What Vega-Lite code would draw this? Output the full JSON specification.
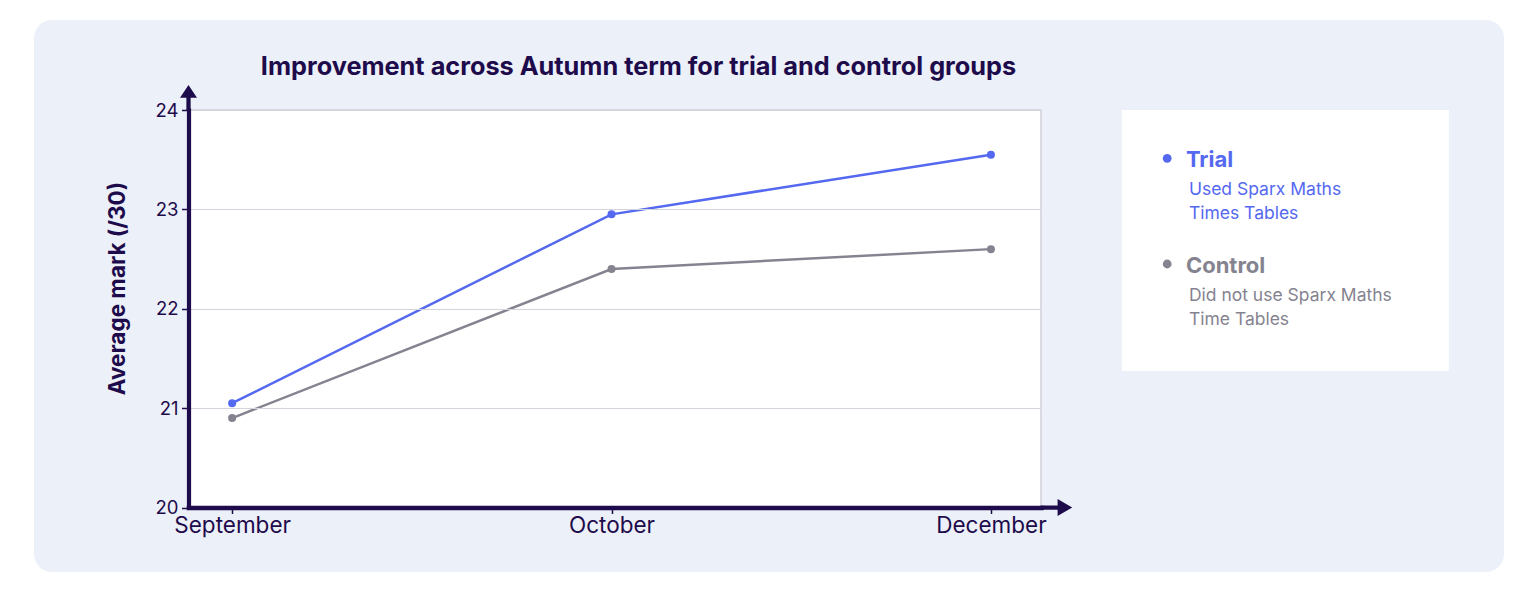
{
  "$schema": "https://vega.github.io/schema/vega-lite/v6.json",
  "width": 1470,
  "height": 552,
  "autosize": {"type": "none"},
  "padding": {"left": 34, "top": 20, "right": 31, "bottom": 24},
  "background": "#ffffff",
  "config": {
    "font": "Inter",
    "view": {"fill": "#ECF0F8", "stroke": null, "cornerRadius": 18}
  },
  "title": {
    "text": "Improvement across Autumn term for trial and control groups",
    "anchor": "middle",
    "frame": "group",
    "dx": -130.5,
    "offset": -80,
    "baseline": "alphabetic",
    "fontSize": 25.3,
    "fontWeight": "bold",
    "color": "#1E0B4B"
  },
  "datasets": {
    "scores": [
      {"month": "September", "monthIndex": 0, "group": "Trial", "mark": 21.05},
      {"month": "October", "monthIndex": 1, "group": "Trial", "mark": 22.95},
      {"month": "December", "monthIndex": 2, "group": "Trial", "mark": 23.55},
      {"month": "September", "monthIndex": 0, "group": "Control", "mark": 20.9},
      {"month": "October", "monthIndex": 1, "group": "Control", "mark": 22.4},
      {"month": "December", "monthIndex": 2, "group": "Control", "mark": 22.6}
    ],
    "legendItems": [
      {"group": "Trial", "note": "Used Sparx Maths\nTimes Tables"},
      {"group": "Control", "note": "Did not use Sparx Maths\nTime Tables"}
    ]
  },
  "resolve": {"scale": {"y": "independent"}},
  "layer": [
    {
      "layer": [
        {
          "data": {"values": [{}]},
          "mark": {"type": "rect", "fill": "#ffffff", "stroke": "#D0D0D8", "strokeWidth": 1.5},
          "encoding": {
            "x": {"datum": -0.115, "type": "quantitative", "scale": {"domain": [-0.115, 2.132], "range": [154.5, 1007], "zero": false, "nice": false}},
            "x2": {"datum": 2.132},
            "y": {"datum": 20, "type": "quantitative", "scale": {"domain": [20, 24], "range": [487.5, 90], "zero": false, "nice": false}},
            "y2": {"datum": 24}
          }
        },
        {
          "data": {"values": [{}]},
          "mark": {"type": "rect", "fill": "#ffffff"},
          "encoding": {
            "x": {"datum": 2.345, "type": "quantitative", "scale": {"domain": [-0.115, 2.132], "range": [154.5, 1007], "zero": false, "nice": false}},
            "x2": {"datum": 3.207},
            "y": {"datum": 24, "type": "quantitative", "scale": {"domain": [20, 24], "range": [487.5, 90], "zero": false, "nice": false}},
            "y2": {"datum": 21.374}
          }
        },
        {
          "data": {"name": "scores"},
          "encoding": {
            "x": {
              "field": "monthIndex",
              "type": "quantitative",
              "scale": {"domain": [-0.115, 2.132], "range": [154.5, 1007], "zero": false, "nice": false},
              "axis": {
                "orient": "bottom",
                "offset": -64.5,
                "values": [0, 1, 2],
                "labelExpr": "['September','October','December'][datum.value]",
                "grid": false,
                "title": null,
                "domainColor": "#1E0B4B",
                "domainWidth": 4.5,
                "domainCap": "square",
                "tickColor": "#1E0B4B",
                "tickSize": 6,
                "tickWidth": 1.5,
                "labelFontSize": 22.5,
                "labelColor": "#1E0B4B",
                "labelPadding": 1,
                "labelFlush": false,
                "zindex": 1
              }
            },
            "y": {
              "field": "mark",
              "type": "quantitative",
              "scale": {"domain": [20, 24], "range": [487.5, 90], "zero": false, "nice": false},
              "axis": {
                "orient": "left",
                "offset": -154.5,
                "values": [20, 21, 22, 23, 24],
                "format": "d",
                "grid": true,
                "gridColor": "#D4D4DC",
                "gridWidth": 1.2,
                "domainColor": "#1E0B4B",
                "domainWidth": 4.2,
                "domainCap": "square",
                "tickColor": "#1E0B4B",
                "tickSize": 7,
                "tickWidth": 1.5,
                "labelFontSize": 18.5,
                "labelColor": "#1E0B4B",
                "labelPadding": 3.5,
                "labelFlush": false,
                "title": "Average mark (/30)",
                "titleFontSize": 22.5,
                "titleFontWeight": "bold",
                "titleColor": "#1E0B4B",
                "titleX": -71.5,
                "titleY": 268,
                "titleAngle": -90,
                "titleBaseline": "middle",
                "titleAlign": "center",
                "zindex": 1
              }
            },
            "color": {
              "field": "group",
              "type": "nominal",
              "scale": {"domain": ["Trial", "Control"], "range": ["#5468F0", "#85838F"]},
              "legend": null
            }
          },
          "layer": [
            {"mark": {"type": "line", "strokeWidth": 2.5}},
            {"mark": {"type": "point", "filled": true, "size": 64, "opacity": 1}}
          ]
        },
        {
          "data": {"values": [{}]},
          "mark": {"type": "point", "shape": "M0,-0.75L1,0.75L0.25,0.75L0.25,2.2L-0.25,2.2L-0.25,0.75L-1,0.75Z", "size": 289, "filled": true, "fill": "#1E0B4B", "opacity": 1, "strokeWidth": 0},
          "encoding": {
            "x": {"datum": -0.115, "type": "quantitative", "scale": {"domain": [-0.115, 2.132], "range": [154.5, 1007], "zero": false, "nice": false}},
            "y": {"datum": 24.188, "type": "quantitative", "scale": {"domain": [20, 24], "range": [487.5, 90], "zero": false, "nice": false}}
          }
        },
        {
          "data": {"values": [{}]},
          "mark": {"type": "point", "shape": "M0.86,0L-0.86,1L-0.86,0.25L-2.85,0.25L-2.85,-0.25L-0.86,-0.25L-0.86,-1Z", "size": 289, "filled": true, "fill": "#1E0B4B", "opacity": 1, "strokeWidth": 0},
          "encoding": {
            "x": {"datum": 2.195, "type": "quantitative", "scale": {"domain": [-0.115, 2.132], "range": [154.5, 1007], "zero": false, "nice": false}},
            "y": {"datum": 20, "type": "quantitative", "scale": {"domain": [20, 24], "range": [487.5, 90], "zero": false, "nice": false}}
          }
        }
      ]
    },
    {
      "data": {"name": "legendItems"},
      "encoding": {
        "x": {"datum": 2.4646, "type": "quantitative", "scale": {"domain": [-0.115, 2.132], "range": [154.5, 1007], "zero": false, "nice": false}},
        "y": {"field": "group", "type": "nominal", "scale": {"domain": ["Trial", "Control"], "range": [138.3, 244], "padding": 0}, "axis": null},
        "color": {"field": "group", "type": "nominal", "legend": null}
      },
      "layer": [
        {"mark": {"type": "point", "filled": true, "size": 78, "opacity": 1}},
        {"mark": {"type": "text", "align": "left", "baseline": "middle", "dx": 18.7, "dy": 1.5, "fontSize": 22, "fontWeight": "bold"}, "encoding": {"text": {"field": "group"}}},
        {"mark": {"type": "text", "align": "left", "baseline": "middle", "dx": 21.7, "dy": 31.5, "fontSize": 17.5, "lineBreak": "\n", "lineHeight": 24}, "encoding": {"text": {"field": "note"}}}
      ]
    }
  ]
}
